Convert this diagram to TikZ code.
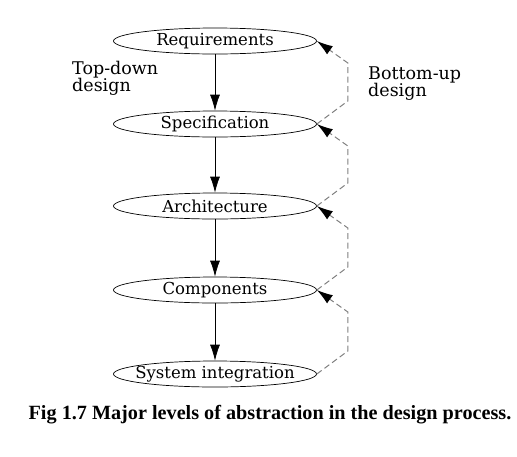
\documentclass[tikz,border=0pt]{standalone}
\usepackage{fontspec}
\setmainfont{DejaVu Serif}
\newfontfamily\capfont{Liberation Serif}
\usetikzlibrary{shapes.geometric,arrows.meta}
\tikzset{
  level/.style={ellipse, draw, line width=0.7pt, minimum width=203pt, minimum height=26pt,
    inner xsep=-30pt, inner ysep=0pt, font=\fontsize{16.5}{18}\selectfont},
  down/.style={draw, line width=0.8pt, -{Latex[length=16pt,width=10pt]}},
  up/.style={draw, gray, line width=1pt, dash pattern=on 6pt off 3.5pt,
    -{Latex[black,length=16pt,width=10pt]}},
  side/.style={align=left, inner sep=0pt, font=\fontsize{17.5}{17}\selectfont}
}
\begin{document}
\begin{tikzpicture}[x=1pt,y=-1pt]
    \useasboundingbox (0,0) rectangle (517,456);

    % levels
    \node[level] (req) at (215,41) {Requirements};
    \node[level] (spec) at (215,124) {Specification};
    \node[level] (arch) at (215,206) {Architecture};
    \node[level] (comp) at (215,290) {Components};
    \node[level] (sys) at (215,374) {System integration};

    % top-down
    \draw[down] (req) -- (spec);
    \draw[down] (spec) -- (arch);
    \draw[down] (arch) -- (comp);
    \draw[down] (comp) -- (sys);

    % bottom-up
    \foreach \lo/\hi in {spec/req, arch/spec, comp/arch, sys/comp}
        \draw[up] (\lo.east) -- ++(31,-23) -- ([shift={(31,22)}]\hi.east) -- (\hi.east);

    \node[side, anchor=west] (td) at (72,78) {Top-down\\design};
    \node[side, anchor=west] (bu) at (368,84) {Bottom-up\\design};

    \node[font=\capfont\bfseries\fontsize{20.2}{22}\selectfont] (cap) at (270,415)
        {Fig 1.7 Major levels of abstraction in the design process.};
\end{tikzpicture}
\end{document}
